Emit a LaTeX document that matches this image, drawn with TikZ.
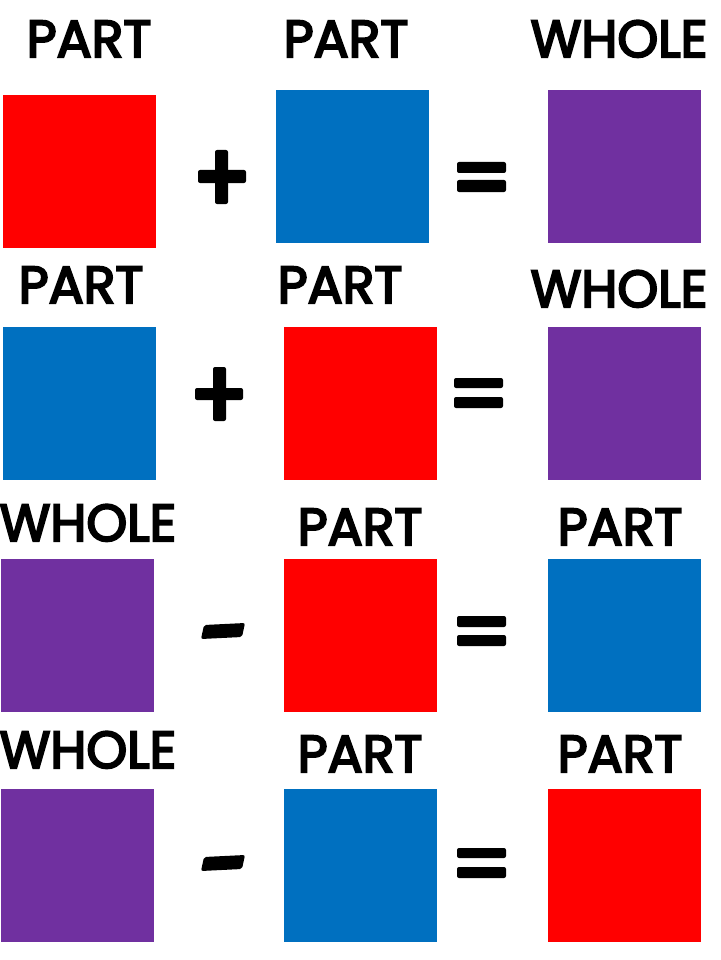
\documentclass[tikz,border=0pt]{standalone}
\usepackage{fontspec}
\setmainfont{Poppins}
\newfontfamily\labelfont{Poppins}[FakeBold=4]
\usepackage{tikz}
\definecolor{partred}{HTML}{FF0000}
\definecolor{partblue}{HTML}{0070C0}
\definecolor{wholepurple}{HTML}{7030A0}
\tikzset{sq/.style = {minimum size = 153, inner sep = 0, outer sep = 0}}
\tikzset{lbl/.style = {anchor = base, inner sep = 0, font = \labelfont\fontsize{52}{52}\selectfont}}
\tikzset{opbar/.style = {fill, black, rounded corners = 2}}

\begin{document}
\begin{tikzpicture}[x=1pt, y=-1pt]
    \useasboundingbox (0, 0) rectangle (720, 960);
    % part + part = whole
    \node [lbl] (lab1a) at (89, 57) {PART};
    \node [lbl] (lab1b) at (346, 57) {PART};
    \node [lbl] (lab1c) at (619, 57) {WHOLE};
    \node [sq, fill=partred] (sq1a) at (79.5, 171.5) {};
    \node [sq, fill=partblue] (sq1b) at (352, 166.5) {};
    \node [sq, fill=wholepurple] (sq1c) at (624, 166.5) {};
    \fill [opbar] (198, 170) rectangle (246, 183);
    \fill [opbar] (215, 150) rectangle (228, 204);
    \fill [opbar] (457, 162) rectangle (506, 173);
    \fill [opbar] (457, 180) rectangle (506, 192);
    % part + part = whole, swapped
    \node [lbl] (lab2a) at (81, 303) {PART};
    \node [lbl] (lab2b) at (340, 303) {PART};
    \node [lbl] (lab2c) at (619, 307) {WHOLE};
    \node [sq, fill=partblue] (sq2a) at (79.5, 403) {};
    \node [sq, fill=partred] (sq2b) at (360, 403) {};
    \node [sq, fill=wholepurple] (sq2c) at (624, 403) {};
    \fill [opbar] (195, 388) rectangle (243, 400);
    \fill [opbar] (213, 367) rectangle (226, 421);
    \fill [opbar] (454, 378) rectangle (503, 388);
    \fill [opbar] (454, 397) rectangle (503, 408);
    % whole - part = part
    \node [lbl] (lab3a) at (88, 541) {WHOLE};
    \node [lbl] (lab3b) at (360, 545) {PART};
    \node [lbl] (lab3c) at (620, 545) {PART};
    \node [sq, fill=wholepurple] (sq3a) at (77, 635) {};
    \node [sq, fill=partred] (sq3b) at (360, 635) {};
    \node [sq, fill=partblue] (sq3c) at (624, 635) {};
    \fill [opbar] (204, 625) -- (245, 623) -- (242, 637) -- (201, 639) -- cycle;
    \fill [opbar] (457, 616) rectangle (506, 627);
    \fill [opbar] (457, 635) rectangle (506, 646);
    % whole - part = part, swapped
    \node [lbl] (lab4a) at (88, 768) {WHOLE};
    \node [lbl] (lab4b) at (360, 772) {PART};
    \node [lbl] (lab4c) at (620, 772) {PART};
    \node [sq, fill=wholepurple] (sq4a) at (77, 865.5) {};
    \node [sq, fill=partblue] (sq4b) at (360, 865.5) {};
    \node [sq, fill=partred] (sq4c) at (624.5, 865.5) {};
    \fill [opbar] (204, 857) -- (245, 855) -- (242, 869) -- (201, 871) -- cycle;
    \fill [opbar] (457, 848) rectangle (506, 858);
    \fill [opbar] (457, 867) rectangle (506, 878);
\end{tikzpicture}
\end{document}
